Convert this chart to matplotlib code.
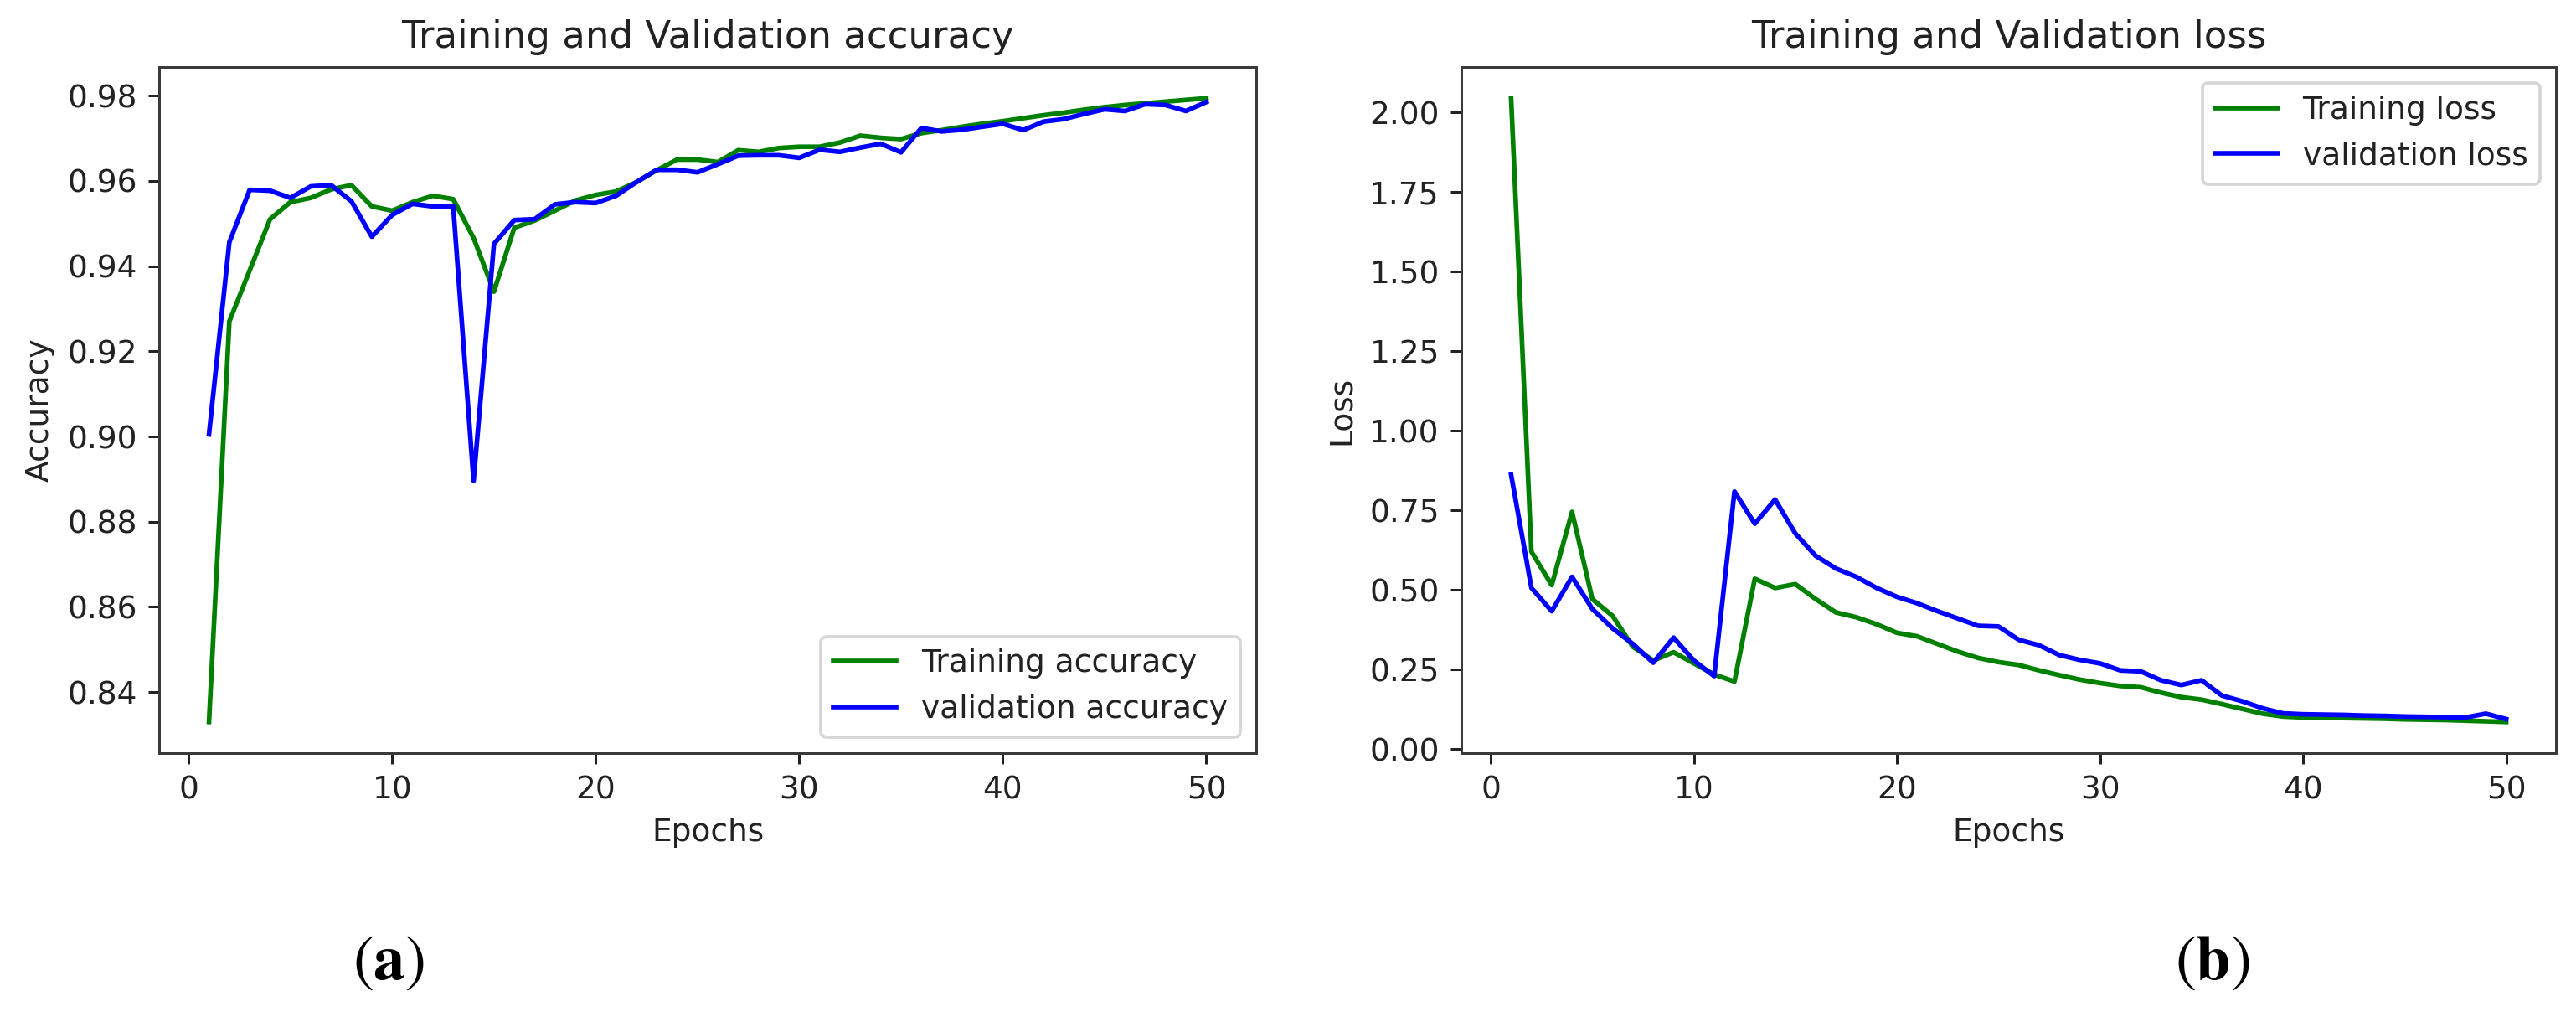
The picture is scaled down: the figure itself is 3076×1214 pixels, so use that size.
import matplotlib
matplotlib.use("Agg")
import matplotlib.pyplot as plt

epochs = list(range(1, 51))

train_acc = [0.833, 0.927, 0.939, 0.951, 0.955, 0.956, 0.958, 0.959, 0.954, 0.953,
             0.955, 0.9565, 0.9557, 0.9466, 0.934, 0.949, 0.9507, 0.953, 0.9554, 0.9567,
             0.9575, 0.9597, 0.9625, 0.965, 0.965, 0.9644, 0.9672, 0.9668, 0.9677, 0.968,
             0.968, 0.969, 0.9706, 0.9701, 0.9698, 0.9712, 0.9719, 0.9727, 0.9734, 0.974,
             0.9747, 0.9754, 0.976, 0.9767, 0.9773, 0.9778, 0.9782, 0.9786, 0.979, 0.9794]

val_acc = [0.9005, 0.9456, 0.9579, 0.9577, 0.956, 0.9587, 0.959, 0.9552, 0.9469, 0.952,
           0.9546, 0.954, 0.954, 0.8896, 0.9452, 0.9508, 0.951, 0.9545, 0.955, 0.9548,
           0.9565, 0.9597, 0.9626, 0.9626, 0.962, 0.9639, 0.9659, 0.966, 0.966, 0.9654,
           0.9673, 0.9668, 0.9678, 0.9687, 0.9667, 0.9724, 0.9716, 0.972, 0.9727, 0.9734,
           0.9719, 0.9739, 0.9745, 0.9757, 0.9768, 0.9764, 0.978, 0.9778, 0.9764, 0.9785]

train_loss = [2.045, 0.620, 0.515, 0.745, 0.471, 0.418, 0.321, 0.278, 0.304, 0.269,
              0.234, 0.212, 0.535, 0.506, 0.518, 0.471, 0.429, 0.414, 0.392, 0.365,
              0.354, 0.330, 0.306, 0.286, 0.273, 0.264, 0.247, 0.232, 0.218, 0.207,
              0.198, 0.194, 0.177, 0.163, 0.155, 0.141, 0.126, 0.111, 0.102, 0.099,
              0.098, 0.097, 0.096, 0.095, 0.093, 0.092, 0.091, 0.089, 0.087, 0.085]

val_loss = [0.862, 0.506, 0.433, 0.541, 0.440, 0.379, 0.330, 0.271, 0.350, 0.278,
            0.229, 0.809, 0.708, 0.784, 0.677, 0.607, 0.567, 0.541, 0.506, 0.478,
            0.458, 0.433, 0.410, 0.387, 0.385, 0.343, 0.326, 0.295, 0.280, 0.269,
            0.247, 0.244, 0.216, 0.201, 0.216, 0.168, 0.150, 0.128, 0.112, 0.109,
            0.108, 0.107, 0.105, 0.104, 0.102, 0.101, 0.100, 0.099, 0.111, 0.094]

acc_labels = ["Training accuracy", "validation accuracy"]
loss_labels = ["Training loss", "validation loss"]
titles = ["Training and Validation accuracy", "Training and Validation loss"]
ylabels = ["Accuracy", "Loss"]
panel_letters = ["a", "b"]

DPI = 270
W, H = 3076, 1214
plt.rcParams['font.family'] = ['DejaVu Sans']
plt.rcParams['mathtext.fontset'] = 'stix'
plt.rcParams['axes.edgecolor'] = '#3a3a3a'
plt.rcParams['text.color'] = '#222222'
plt.rcParams['xtick.color'] = '#222222'
plt.rcParams['ytick.color'] = '#222222'
plt.rcParams['axes.labelcolor'] = '#222222'

fig = plt.figure(figsize=(W / DPI, H / DPI), dpi=DPI)

ax1 = fig.add_axes([190 / W, 1 - 899 / H, (1500 - 190) / W, (899 - 80) / H])
ax2 = fig.add_axes([1745 / W, 1 - 899 / H, (3052 - 1745) / W, (899 - 80) / H])

ax1.plot(epochs, train_acc, color='green', label=acc_labels[0])
ax1.plot(epochs, val_acc, color='blue', label=acc_labels[1])
ax1.set_title(titles[0])
ax1.set_xlabel("Epochs")
ax1.set_ylabel(ylabels[0])
ax1.legend(loc='lower right')

ax2.plot(epochs, train_loss, color='green', label=loss_labels[0])
ax2.plot(epochs, val_loss, color='blue', label=loss_labels[1])
ax2.set_title(titles[1])
ax2.set_xlabel("Epochs")
ax2.set_ylabel(ylabels[1])
ax2.legend(loc='upper right')

for xc, letter in zip([464, 2642], panel_letters):
    fig.text(xc / W, 1 - 1148 / H, r"$(\mathbf{%s})$" % letter, ha='center', va='center',
             fontsize=20, color='black')

fig.savefig("out.png", dpi=DPI)
